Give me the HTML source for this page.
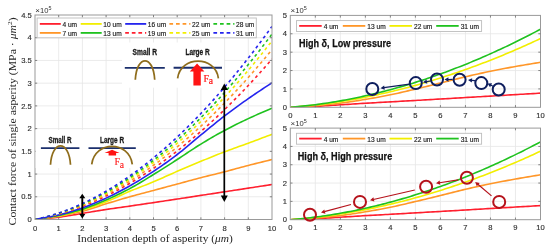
<!DOCTYPE html><html><head><meta charset="utf-8"><style>html,body{margin:0;padding:0;background:#fff;}svg{display:block;will-change:transform;}text{font-family:'Liberation Sans', sans-serif;}</style></head><body>
<svg width="550" height="248" viewBox="0 0 550 248">
<rect width="550" height="248" fill="#fff"/>
<line x1="58.70" y1="15.00" x2="58.70" y2="219.50" stroke="#e6e6e6" stroke-width="0.8"/>
<line x1="82.40" y1="15.00" x2="82.40" y2="219.50" stroke="#e6e6e6" stroke-width="0.8"/>
<line x1="106.10" y1="15.00" x2="106.10" y2="219.50" stroke="#e6e6e6" stroke-width="0.8"/>
<line x1="129.80" y1="15.00" x2="129.80" y2="219.50" stroke="#e6e6e6" stroke-width="0.8"/>
<line x1="153.50" y1="15.00" x2="153.50" y2="219.50" stroke="#e6e6e6" stroke-width="0.8"/>
<line x1="177.20" y1="15.00" x2="177.20" y2="219.50" stroke="#e6e6e6" stroke-width="0.8"/>
<line x1="200.90" y1="15.00" x2="200.90" y2="219.50" stroke="#e6e6e6" stroke-width="0.8"/>
<line x1="224.60" y1="15.00" x2="224.60" y2="219.50" stroke="#e6e6e6" stroke-width="0.8"/>
<line x1="248.30" y1="15.00" x2="248.30" y2="219.50" stroke="#e6e6e6" stroke-width="0.8"/>
<line x1="35.00" y1="196.78" x2="272.00" y2="196.78" stroke="#e6e6e6" stroke-width="0.8"/>
<line x1="35.00" y1="174.06" x2="272.00" y2="174.06" stroke="#e6e6e6" stroke-width="0.8"/>
<line x1="35.00" y1="151.33" x2="272.00" y2="151.33" stroke="#e6e6e6" stroke-width="0.8"/>
<line x1="35.00" y1="128.61" x2="272.00" y2="128.61" stroke="#e6e6e6" stroke-width="0.8"/>
<line x1="35.00" y1="105.89" x2="272.00" y2="105.89" stroke="#e6e6e6" stroke-width="0.8"/>
<line x1="35.00" y1="83.17" x2="272.00" y2="83.17" stroke="#e6e6e6" stroke-width="0.8"/>
<line x1="35.00" y1="60.44" x2="272.00" y2="60.44" stroke="#e6e6e6" stroke-width="0.8"/>
<line x1="35.00" y1="37.72" x2="272.00" y2="37.72" stroke="#e6e6e6" stroke-width="0.8"/>
<clipPath id="cl"><rect x="35.00" y="15.00" width="237.00" height="204.50"/></clipPath>
<g clip-path="url(#cl)">
<polyline points="35.00,219.50 37.37,219.28 39.74,219.06 42.11,218.86 44.48,218.65 46.85,218.44 49.22,218.22 51.59,218.00 53.96,217.76 56.33,217.50 58.70,217.23 61.07,216.92 63.44,216.58 65.81,216.22 68.18,215.83 70.55,215.42 72.92,215.01 75.29,214.59 77.66,214.17 80.03,213.76 82.40,213.37 84.77,212.98 87.14,212.58 89.51,212.19 91.88,211.80 94.25,211.40 96.62,211.01 98.99,210.63 101.36,210.24 103.73,209.87 106.10,209.50 108.47,209.14 110.84,208.79 113.21,208.45 115.58,208.11 117.95,207.78 120.32,207.44 122.69,207.11 125.06,206.77 127.43,206.44 129.80,206.09 132.17,205.75 134.54,205.40 136.91,205.05 139.28,204.70 141.65,204.35 144.02,204.00 146.39,203.65 148.76,203.30 151.13,202.95 153.50,202.59 155.87,202.24 158.24,201.89 160.61,201.54 162.98,201.18 165.35,200.83 167.72,200.48 170.09,200.12 172.46,199.77 174.83,199.41 177.20,199.05 179.57,198.69 181.94,198.33 184.31,197.97 186.68,197.60 189.05,197.24 191.42,196.87 193.79,196.51 196.16,196.14 198.53,195.78 200.90,195.41 203.27,195.05 205.64,194.69 208.01,194.32 210.38,193.96 212.75,193.60 215.12,193.23 217.49,192.87 219.86,192.51 222.23,192.14 224.60,191.78 226.97,191.42 229.34,191.05 231.71,190.69 234.08,190.32 236.45,189.96 238.82,189.60 241.19,189.23 243.56,188.87 245.93,188.51 248.30,188.14 250.67,187.78 253.04,187.42 255.41,187.05 257.78,186.69 260.15,186.33 262.52,185.96 264.89,185.60 267.26,185.23 269.63,184.87 272.00,184.51" fill="none" stroke="#ff1f2e" stroke-width="1.60" stroke-linejoin="round"/>
<polyline points="35.00,219.50 37.37,219.19 39.74,218.89 42.11,218.59 44.48,218.30 46.85,218.00 49.22,217.69 51.59,217.38 53.96,217.05 56.33,216.69 58.70,216.32 61.07,215.92 63.44,215.49 65.81,215.05 68.18,214.58 70.55,214.08 72.92,213.57 75.29,213.04 77.66,212.48 80.03,211.91 82.40,211.32 84.77,210.69 87.14,210.00 89.51,209.28 91.88,208.51 94.25,207.73 96.62,206.93 98.99,206.13 101.36,205.34 103.73,204.57 106.10,203.82 108.47,203.10 110.84,202.37 113.21,201.65 115.58,200.94 117.95,200.23 120.32,199.52 122.69,198.82 125.06,198.13 127.43,197.45 129.80,196.78 132.17,196.12 134.54,195.46 136.91,194.82 139.28,194.19 141.65,193.56 144.02,192.93 146.39,192.30 148.76,191.68 151.13,191.05 153.50,190.42 155.87,189.78 158.24,189.14 160.61,188.51 162.98,187.87 165.35,187.23 167.72,186.60 170.09,185.96 172.46,185.33 174.83,184.69 177.20,184.05 179.57,183.41 181.94,182.77 184.31,182.13 186.68,181.49 189.05,180.84 191.42,180.20 193.79,179.57 196.16,178.93 198.53,178.31 200.90,177.69 203.27,177.08 205.64,176.49 208.01,175.90 210.38,175.32 212.75,174.74 215.12,174.16 217.49,173.57 219.86,172.99 222.23,172.39 224.60,171.78 226.97,171.16 229.34,170.53 231.71,169.89 234.08,169.25 236.45,168.60 238.82,167.95 241.19,167.31 243.56,166.67 245.93,166.04 248.30,165.42 250.67,164.81 253.04,164.21 255.41,163.62 257.78,163.03 260.15,162.44 262.52,161.86 264.89,161.27 267.26,160.69 269.63,160.10 272.00,159.51" fill="none" stroke="#ff9628" stroke-width="1.60" stroke-linejoin="round"/>
<polyline points="35.00,219.50 37.37,219.14 39.74,218.80 42.11,218.46 44.48,218.13 46.85,217.79 49.22,217.44 51.59,217.08 53.96,216.70 56.33,216.30 58.70,215.86 61.07,215.40 63.44,214.89 65.81,214.36 68.18,213.80 70.55,213.21 72.92,212.59 75.29,211.96 77.66,211.31 80.03,210.64 82.40,209.96 84.77,209.25 87.14,208.52 89.51,207.76 91.88,206.97 94.25,206.16 96.62,205.32 98.99,204.46 101.36,203.58 103.73,202.69 106.10,201.78 108.47,200.83 110.84,199.83 113.21,198.80 115.58,197.73 117.95,196.65 120.32,195.56 122.69,194.47 125.06,193.39 127.43,192.34 129.80,191.32 132.17,190.34 134.54,189.37 136.91,188.43 139.28,187.49 141.65,186.55 144.02,185.62 146.39,184.68 148.76,183.73 151.13,182.77 153.50,181.78 155.87,180.77 158.24,179.74 160.61,178.70 162.98,177.65 165.35,176.59 167.72,175.52 170.09,174.46 172.46,173.40 174.83,172.36 177.20,171.33 179.57,170.31 181.94,169.29 184.31,168.28 186.68,167.28 189.05,166.27 191.42,165.28 193.79,164.28 196.16,163.29 198.53,162.31 200.90,161.33 203.27,160.35 205.64,159.38 208.01,158.41 210.38,157.44 212.75,156.47 215.12,155.52 217.49,154.57 219.86,153.63 222.23,152.70 224.60,151.79 226.97,150.89 229.34,150.01 231.71,149.14 234.08,148.28 236.45,147.43 238.82,146.58 241.19,145.73 243.56,144.88 245.93,144.02 248.30,143.15 250.67,142.28 253.04,141.40 255.41,140.51 257.78,139.63 260.15,138.74 262.52,137.85 264.89,136.96 267.26,136.07 269.63,135.18 272.00,134.29" fill="none" stroke="#f2ee00" stroke-width="1.60" stroke-linejoin="round"/>
<polyline points="35.00,219.50 37.37,219.10 39.74,218.71 42.11,218.33 44.48,217.95 46.85,217.56 49.22,217.17 51.59,216.76 53.96,216.34 56.33,215.89 58.70,215.41 61.07,214.90 63.44,214.37 65.81,213.81 68.18,213.22 70.55,212.61 72.92,211.97 75.29,211.31 77.66,210.63 80.03,209.92 82.40,209.18 84.77,208.42 87.14,207.60 89.51,206.74 91.88,205.84 94.25,204.91 96.62,203.96 98.99,202.98 101.36,201.98 103.73,200.98 106.10,199.96 108.47,198.93 110.84,197.88 113.21,196.80 115.58,195.70 117.95,194.58 120.32,193.43 122.69,192.26 125.06,191.06 127.43,189.84 129.80,188.60 132.17,187.32 134.54,185.99 136.91,184.62 139.28,183.22 141.65,181.80 144.02,180.35 146.39,178.90 148.76,177.43 151.13,175.97 153.50,174.51 155.87,173.05 158.24,171.58 160.61,170.09 162.98,168.60 165.35,167.10 167.72,165.59 170.09,164.07 172.46,162.56 174.83,161.04 177.20,159.51 179.57,157.98 181.94,156.42 184.31,154.85 186.68,153.27 189.05,151.70 191.42,150.13 193.79,148.57 196.16,147.04 198.53,145.53 200.90,144.06 203.27,142.62 205.64,141.20 208.01,139.79 210.38,138.39 212.75,137.02 215.12,135.66 217.49,134.32 219.86,133.00 222.23,131.71 224.60,130.43 226.97,129.17 229.34,127.93 231.71,126.71 234.08,125.51 236.45,124.33 238.82,123.15 241.19,122.00 243.56,120.86 245.93,119.73 248.30,118.61 250.67,117.52 253.04,116.44 255.41,115.38 257.78,114.34 260.15,113.31 262.52,112.28 264.89,111.26 267.26,110.23 269.63,109.20 272.00,108.16" fill="none" stroke="#1fc21f" stroke-width="1.60" stroke-linejoin="round"/>
<polyline points="35.00,219.50 37.37,219.05 39.74,218.62 42.11,218.20 44.48,217.78 46.85,217.35 49.22,216.91 51.59,216.46 53.96,215.99 56.33,215.49 58.70,214.96 61.07,214.38 63.44,213.78 65.81,213.14 68.18,212.47 70.55,211.77 72.92,211.04 75.29,210.29 77.66,209.52 80.03,208.72 82.40,207.91 84.77,207.07 87.14,206.20 89.51,205.28 91.88,204.34 94.25,203.36 96.62,202.36 98.99,201.33 101.36,200.29 103.73,199.22 106.10,198.14 108.47,197.04 110.84,195.90 113.21,194.73 115.58,193.53 117.95,192.31 120.32,191.06 122.69,189.79 125.06,188.50 127.43,187.19 129.80,185.87 132.17,184.53 134.54,183.15 136.91,181.76 139.28,180.33 141.65,178.89 144.02,177.42 146.39,175.92 148.76,174.41 151.13,172.88 153.50,171.33 155.87,169.76 158.24,168.16 160.61,166.54 162.98,164.90 165.35,163.23 167.72,161.54 170.09,159.82 172.46,158.08 174.83,156.31 177.20,154.51 179.57,152.68 181.94,150.79 184.31,148.85 186.68,146.89 189.05,144.90 191.42,142.90 193.79,140.89 196.16,138.90 198.53,136.92 200.90,134.97 203.27,133.04 205.64,131.10 208.01,129.15 210.38,127.21 212.75,125.28 215.12,123.36 217.49,121.46 219.86,119.57 222.23,117.72 224.60,115.89 226.97,114.08 229.34,112.30 231.71,110.53 234.08,108.79 236.45,107.06 238.82,105.34 241.19,103.64 243.56,101.95 245.93,100.28 248.30,98.62 250.67,96.97 253.04,95.35 255.41,93.75 257.78,92.16 260.15,90.58 262.52,89.01 264.89,87.44 267.26,85.87 269.63,84.30 272.00,82.71" fill="none" stroke="#2424ee" stroke-width="1.60" stroke-linejoin="round"/>
<polyline points="35.00,219.50 37.37,219.08 39.74,218.64 42.11,218.17 44.48,217.67 46.85,217.15 49.22,216.60 51.59,216.02 53.96,215.42 56.33,214.79 58.70,214.14 61.07,213.46 63.44,212.76 65.81,212.03 68.18,211.28 70.55,210.51 72.92,209.71 75.29,208.88 77.66,208.03 80.03,207.16 82.40,206.26 84.77,205.34 87.14,204.40 89.51,203.43 91.88,202.43 94.25,201.41 96.62,200.37 98.99,199.31 101.36,198.22 103.73,197.11 106.10,195.97 108.47,194.81 110.84,193.62 113.21,192.42 115.58,191.19 117.95,189.93 120.32,188.65 122.69,187.35 125.06,186.03 127.43,184.68 129.80,183.31 132.17,181.91 134.54,180.49 136.91,179.05 139.28,177.59 141.65,176.10 144.02,174.59 146.39,173.05 148.76,171.49 151.13,169.91 153.50,168.31 155.87,166.68 158.24,165.03 160.61,163.36 162.98,161.66 165.35,159.94 167.72,158.20 170.09,156.44 172.46,154.65 174.83,152.84 177.20,151.00 179.57,149.15 181.94,147.27 184.31,145.37 186.68,143.44 189.05,141.49 191.42,139.52 193.79,137.53 196.16,135.51 198.53,133.47 200.90,131.41 203.27,129.33 205.64,127.22 208.01,125.09 210.38,122.94 212.75,120.76 215.12,118.57 217.49,116.35 219.86,114.10 222.23,111.84 224.60,109.55 226.97,107.24 229.34,104.91 231.71,102.55 234.08,100.18 236.45,97.77 238.82,95.35 241.19,92.91 243.56,90.44 245.93,87.95 248.30,85.44 250.67,82.90 253.04,80.34 255.41,77.76 257.78,75.16 260.15,72.54 262.52,69.89 264.89,67.22 267.26,64.53 269.63,61.82 272.00,59.08" fill="none" stroke="#ff1f2e" stroke-width="1.60" stroke-dasharray="3.0,3.2" stroke-linejoin="round"/>
<polyline points="35.00,219.50 37.37,219.06 39.74,218.59 42.11,218.09 44.48,217.56 46.85,217.01 49.22,216.42 51.59,215.81 53.96,215.18 56.33,214.51 58.70,213.82 61.07,213.10 63.44,212.36 65.81,211.59 68.18,210.79 70.55,209.97 72.92,209.13 75.29,208.25 77.66,207.35 80.03,206.43 82.40,205.48 84.77,204.50 87.14,203.50 89.51,202.47 91.88,201.42 94.25,200.34 96.62,199.23 98.99,198.11 101.36,196.95 103.73,195.77 106.10,194.57 108.47,193.34 110.84,192.08 113.21,190.81 115.58,189.50 117.95,188.17 120.32,186.82 122.69,185.44 125.06,184.03 127.43,182.61 129.80,181.15 132.17,179.67 134.54,178.17 136.91,176.64 139.28,175.09 141.65,173.51 144.02,171.91 146.39,170.29 148.76,168.64 151.13,166.96 153.50,165.26 155.87,163.54 158.24,161.79 160.61,160.02 162.98,158.22 165.35,156.40 167.72,154.55 170.09,152.68 172.46,150.79 174.83,148.87 177.20,146.93 179.57,144.96 181.94,142.97 184.31,140.96 186.68,138.92 189.05,136.85 191.42,134.76 193.79,132.65 196.16,130.52 198.53,128.36 200.90,126.17 203.27,123.96 205.64,121.73 208.01,119.47 210.38,117.19 212.75,114.89 215.12,112.56 217.49,110.21 219.86,107.83 222.23,105.43 224.60,103.01 226.97,100.56 229.34,98.09 231.71,95.60 234.08,93.08 236.45,90.53 238.82,87.97 241.19,85.38 243.56,82.76 245.93,80.12 248.30,77.46 250.67,74.78 253.04,72.07 255.41,69.33 257.78,66.58 260.15,63.80 262.52,60.99 264.89,58.16 267.26,55.31 269.63,52.44 272.00,49.54" fill="none" stroke="#ff9628" stroke-width="1.60" stroke-dasharray="3.0,3.2" stroke-linejoin="round"/>
<polyline points="35.00,219.50 37.37,219.04 39.74,218.54 42.11,218.02 44.48,217.46 46.85,216.88 49.22,216.27 51.59,215.62 53.96,214.96 56.33,214.26 58.70,213.53 61.07,212.78 63.44,212.00 65.81,211.19 68.18,210.35 70.55,209.49 72.92,208.60 75.29,207.68 77.66,206.73 80.03,205.76 82.40,204.76 84.77,203.74 87.14,202.68 89.51,201.60 91.88,200.50 94.25,199.37 96.62,198.21 98.99,197.02 101.36,195.81 103.73,194.57 106.10,193.30 108.47,192.01 110.84,190.69 113.21,189.35 115.58,187.98 117.95,186.58 120.32,185.16 122.69,183.71 125.06,182.23 127.43,180.73 129.80,179.20 132.17,177.65 134.54,176.07 136.91,174.47 139.28,172.84 141.65,171.18 144.02,169.50 146.39,167.79 148.76,166.05 151.13,164.29 153.50,162.51 155.87,160.70 158.24,158.86 160.61,157.00 162.98,155.11 165.35,153.19 167.72,151.25 170.09,149.29 172.46,147.30 174.83,145.28 177.20,143.24 179.57,141.17 181.94,139.08 184.31,136.96 186.68,134.82 189.05,132.65 191.42,130.46 193.79,128.24 196.16,126.00 198.53,123.73 200.90,121.43 203.27,119.11 205.64,116.76 208.01,114.39 210.38,112.00 212.75,109.58 215.12,107.13 217.49,104.66 219.86,102.16 222.23,99.64 224.60,97.09 226.97,94.52 229.34,91.92 231.71,89.30 234.08,86.65 236.45,83.98 238.82,81.28 241.19,78.56 243.56,75.81 245.93,73.04 248.30,70.25 250.67,67.42 253.04,64.58 255.41,61.70 257.78,58.81 260.15,55.89 262.52,52.94 264.89,49.97 267.26,46.97 269.63,43.95 272.00,40.90" fill="none" stroke="#f2ee00" stroke-width="1.60" stroke-dasharray="3.0,3.2" stroke-linejoin="round"/>
<polyline points="35.00,219.50 37.37,219.02 39.74,218.51 42.11,217.96 44.48,217.38 46.85,216.78 49.22,216.14 51.59,215.48 53.96,214.78 56.33,214.06 58.70,213.30 61.07,212.52 63.44,211.71 65.81,210.87 68.18,210.00 70.55,209.11 72.92,208.18 75.29,207.23 77.66,206.25 80.03,205.24 82.40,204.20 84.77,203.14 87.14,202.04 89.51,200.92 91.88,199.77 94.25,198.60 96.62,197.39 98.99,196.16 101.36,194.90 103.73,193.62 106.10,192.30 108.47,190.96 110.84,189.59 113.21,188.20 115.58,186.77 117.95,185.32 120.32,183.85 122.69,182.34 125.06,180.81 127.43,179.25 129.80,177.67 132.17,176.05 134.54,174.41 136.91,172.75 139.28,171.05 141.65,169.33 144.02,167.59 146.39,165.81 148.76,164.01 151.13,162.19 153.50,160.33 155.87,158.45 158.24,156.54 160.61,154.61 162.98,152.65 165.35,150.66 167.72,148.65 170.09,146.61 172.46,144.54 174.83,142.45 177.20,140.33 179.57,138.19 181.94,136.01 184.31,133.81 186.68,131.59 189.05,129.34 191.42,127.06 193.79,124.76 196.16,122.43 198.53,120.07 200.90,117.69 203.27,115.28 205.64,112.84 208.01,110.38 210.38,107.89 212.75,105.38 215.12,102.84 217.49,100.27 219.86,97.68 222.23,95.06 224.60,92.42 226.97,89.75 229.34,87.05 231.71,84.33 234.08,81.58 236.45,78.81 238.82,76.01 241.19,73.18 243.56,70.33 245.93,67.45 248.30,64.55 250.67,61.62 253.04,58.66 255.41,55.68 257.78,52.67 260.15,49.64 262.52,46.58 264.89,43.50 267.26,40.39 269.63,37.25 272.00,34.09" fill="none" stroke="#1fc21f" stroke-width="1.60" stroke-dasharray="3.0,3.2" stroke-linejoin="round"/>
<polyline points="35.00,219.50 37.37,219.00 39.74,218.46 42.11,217.90 44.48,217.30 46.85,216.67 49.22,216.00 51.59,215.31 53.96,214.59 56.33,213.83 58.70,213.05 61.07,212.23 63.44,211.39 65.81,210.51 68.18,209.61 70.55,208.67 72.92,207.71 75.29,206.72 77.66,205.70 80.03,204.64 82.40,203.56 84.77,202.45 87.14,201.32 89.51,200.15 91.88,198.95 94.25,197.73 96.62,196.47 98.99,195.19 101.36,193.88 103.73,192.54 106.10,191.17 108.47,189.77 110.84,188.35 113.21,186.89 115.58,185.41 117.95,183.90 120.32,182.36 122.69,180.79 125.06,179.20 127.43,177.57 129.80,175.92 132.17,174.24 134.54,172.54 136.91,170.80 139.28,169.04 141.65,167.24 144.02,165.42 146.39,163.58 148.76,161.70 151.13,159.80 153.50,157.87 155.87,155.91 158.24,153.92 160.61,151.91 162.98,149.87 165.35,147.80 167.72,145.70 170.09,143.57 172.46,141.42 174.83,139.24 177.20,137.03 179.57,134.80 181.94,132.53 184.31,130.24 186.68,127.93 189.05,125.58 191.42,123.21 193.79,120.81 196.16,118.38 198.53,115.93 200.90,113.44 203.27,110.94 205.64,108.40 208.01,105.84 210.38,103.24 212.75,100.63 215.12,97.98 217.49,95.31 219.86,92.61 222.23,89.88 224.60,87.13 226.97,84.34 229.34,81.54 231.71,78.70 234.08,75.84 236.45,72.95 238.82,70.03 241.19,67.09 243.56,64.12 245.93,61.12 248.30,58.09 250.67,55.04 253.04,51.96 255.41,48.86 257.78,45.72 260.15,42.56 262.52,39.38 264.89,36.16 267.26,32.92 269.63,29.66 272.00,26.36" fill="none" stroke="#2424ee" stroke-width="1.60" stroke-dasharray="3.0,3.2" stroke-linejoin="round"/>
</g>
<rect x="35.00" y="15.00" width="237.00" height="204.50" fill="none" stroke="#999999" stroke-width="1.0"/>
<line x1="58.70" y1="219.50" x2="58.70" y2="217.30" stroke="#777" stroke-width="0.9"/>
<line x1="58.70" y1="15.00" x2="58.70" y2="17.20" stroke="#777" stroke-width="0.9"/>
<line x1="82.40" y1="219.50" x2="82.40" y2="217.30" stroke="#777" stroke-width="0.9"/>
<line x1="82.40" y1="15.00" x2="82.40" y2="17.20" stroke="#777" stroke-width="0.9"/>
<line x1="106.10" y1="219.50" x2="106.10" y2="217.30" stroke="#777" stroke-width="0.9"/>
<line x1="106.10" y1="15.00" x2="106.10" y2="17.20" stroke="#777" stroke-width="0.9"/>
<line x1="129.80" y1="219.50" x2="129.80" y2="217.30" stroke="#777" stroke-width="0.9"/>
<line x1="129.80" y1="15.00" x2="129.80" y2="17.20" stroke="#777" stroke-width="0.9"/>
<line x1="153.50" y1="219.50" x2="153.50" y2="217.30" stroke="#777" stroke-width="0.9"/>
<line x1="153.50" y1="15.00" x2="153.50" y2="17.20" stroke="#777" stroke-width="0.9"/>
<line x1="177.20" y1="219.50" x2="177.20" y2="217.30" stroke="#777" stroke-width="0.9"/>
<line x1="177.20" y1="15.00" x2="177.20" y2="17.20" stroke="#777" stroke-width="0.9"/>
<line x1="200.90" y1="219.50" x2="200.90" y2="217.30" stroke="#777" stroke-width="0.9"/>
<line x1="200.90" y1="15.00" x2="200.90" y2="17.20" stroke="#777" stroke-width="0.9"/>
<line x1="224.60" y1="219.50" x2="224.60" y2="217.30" stroke="#777" stroke-width="0.9"/>
<line x1="224.60" y1="15.00" x2="224.60" y2="17.20" stroke="#777" stroke-width="0.9"/>
<line x1="248.30" y1="219.50" x2="248.30" y2="217.30" stroke="#777" stroke-width="0.9"/>
<line x1="248.30" y1="15.00" x2="248.30" y2="17.20" stroke="#777" stroke-width="0.9"/>
<line x1="35.00" y1="196.78" x2="37.20" y2="196.78" stroke="#777" stroke-width="0.9"/>
<line x1="272.00" y1="196.78" x2="269.80" y2="196.78" stroke="#777" stroke-width="0.9"/>
<line x1="35.00" y1="174.06" x2="37.20" y2="174.06" stroke="#777" stroke-width="0.9"/>
<line x1="272.00" y1="174.06" x2="269.80" y2="174.06" stroke="#777" stroke-width="0.9"/>
<line x1="35.00" y1="151.33" x2="37.20" y2="151.33" stroke="#777" stroke-width="0.9"/>
<line x1="272.00" y1="151.33" x2="269.80" y2="151.33" stroke="#777" stroke-width="0.9"/>
<line x1="35.00" y1="128.61" x2="37.20" y2="128.61" stroke="#777" stroke-width="0.9"/>
<line x1="272.00" y1="128.61" x2="269.80" y2="128.61" stroke="#777" stroke-width="0.9"/>
<line x1="35.00" y1="105.89" x2="37.20" y2="105.89" stroke="#777" stroke-width="0.9"/>
<line x1="272.00" y1="105.89" x2="269.80" y2="105.89" stroke="#777" stroke-width="0.9"/>
<line x1="35.00" y1="83.17" x2="37.20" y2="83.17" stroke="#777" stroke-width="0.9"/>
<line x1="272.00" y1="83.17" x2="269.80" y2="83.17" stroke="#777" stroke-width="0.9"/>
<line x1="35.00" y1="60.44" x2="37.20" y2="60.44" stroke="#777" stroke-width="0.9"/>
<line x1="272.00" y1="60.44" x2="269.80" y2="60.44" stroke="#777" stroke-width="0.9"/>
<line x1="35.00" y1="37.72" x2="37.20" y2="37.72" stroke="#777" stroke-width="0.9"/>
<line x1="272.00" y1="37.72" x2="269.80" y2="37.72" stroke="#777" stroke-width="0.9"/>
<text x="35.00" y="230.60" font-size="7.6" text-anchor="middle" fill="#303030" stroke="#303030" stroke-width="0.15">0</text>
<text x="58.70" y="230.60" font-size="7.6" text-anchor="middle" fill="#303030" stroke="#303030" stroke-width="0.15">1</text>
<text x="82.40" y="230.60" font-size="7.6" text-anchor="middle" fill="#303030" stroke="#303030" stroke-width="0.15">2</text>
<text x="106.10" y="230.60" font-size="7.6" text-anchor="middle" fill="#303030" stroke="#303030" stroke-width="0.15">3</text>
<text x="129.80" y="230.60" font-size="7.6" text-anchor="middle" fill="#303030" stroke="#303030" stroke-width="0.15">4</text>
<text x="153.50" y="230.60" font-size="7.6" text-anchor="middle" fill="#303030" stroke="#303030" stroke-width="0.15">5</text>
<text x="177.20" y="230.60" font-size="7.6" text-anchor="middle" fill="#303030" stroke="#303030" stroke-width="0.15">6</text>
<text x="200.90" y="230.60" font-size="7.6" text-anchor="middle" fill="#303030" stroke="#303030" stroke-width="0.15">7</text>
<text x="224.60" y="230.60" font-size="7.6" text-anchor="middle" fill="#303030" stroke="#303030" stroke-width="0.15">8</text>
<text x="248.30" y="230.60" font-size="7.6" text-anchor="middle" fill="#303030" stroke="#303030" stroke-width="0.15">9</text>
<text x="272.00" y="230.60" font-size="7.6" text-anchor="middle" fill="#303030" stroke="#303030" stroke-width="0.15">10</text>
<text x="31.70" y="222.20" font-size="7.6" text-anchor="end" fill="#303030" stroke="#303030" stroke-width="0.15">0</text>
<text x="31.70" y="199.48" font-size="7.6" text-anchor="end" fill="#303030" stroke="#303030" stroke-width="0.15">0.5</text>
<text x="31.70" y="176.76" font-size="7.6" text-anchor="end" fill="#303030" stroke="#303030" stroke-width="0.15">1</text>
<text x="31.70" y="154.03" font-size="7.6" text-anchor="end" fill="#303030" stroke="#303030" stroke-width="0.15">1.5</text>
<text x="31.70" y="131.31" font-size="7.6" text-anchor="end" fill="#303030" stroke="#303030" stroke-width="0.15">2</text>
<text x="31.70" y="108.59" font-size="7.6" text-anchor="end" fill="#303030" stroke="#303030" stroke-width="0.15">2.5</text>
<text x="31.70" y="85.87" font-size="7.6" text-anchor="end" fill="#303030" stroke="#303030" stroke-width="0.15">3</text>
<text x="31.70" y="63.14" font-size="7.6" text-anchor="end" fill="#303030" stroke="#303030" stroke-width="0.15">3.5</text>
<text x="31.70" y="40.42" font-size="7.6" text-anchor="end" fill="#303030" stroke="#303030" stroke-width="0.15">4</text>
<text x="31.70" y="17.70" font-size="7.6" text-anchor="end" fill="#303030" stroke="#303030" stroke-width="0.15">4.5</text>
<text x="35.30" y="12.70" font-size="7.6" fill="#303030"><tspan font-size="8">&#215;</tspan>10<tspan font-size="5.4" dy="-3.2">5</tspan></text>
<rect x="37.1" y="18" width="219.2" height="19.8" fill="#fff" stroke="#bdbdbd" stroke-width="0.9"/>
<line x1="39.80" y1="23.90" x2="60.80" y2="23.90" stroke="#ff1f2e" stroke-width="1.8"/>
<text x="62.40" y="27.10" font-size="6.6" fill="#1a1a1a" stroke="#1a1a1a" stroke-width="0.15">4 um</text>
<line x1="80.70" y1="23.90" x2="101.70" y2="23.90" stroke="#f2ee00" stroke-width="1.8"/>
<text x="103.30" y="27.10" font-size="6.6" fill="#1a1a1a" stroke="#1a1a1a" stroke-width="0.15">10 um</text>
<line x1="125.20" y1="23.90" x2="146.20" y2="23.90" stroke="#2424ee" stroke-width="1.8"/>
<text x="147.80" y="27.10" font-size="6.6" fill="#1a1a1a" stroke="#1a1a1a" stroke-width="0.15">16 um</text>
<line x1="169.40" y1="23.90" x2="190.40" y2="23.90" stroke="#ff9628" stroke-width="1.8" stroke-dasharray="3.7,2.9"/>
<text x="192.00" y="27.10" font-size="6.6" fill="#1a1a1a" stroke="#1a1a1a" stroke-width="0.15">22 um</text>
<line x1="213.40" y1="23.90" x2="234.40" y2="23.90" stroke="#1fc21f" stroke-width="1.8" stroke-dasharray="3.7,2.9"/>
<text x="236.00" y="27.10" font-size="6.6" fill="#1a1a1a" stroke="#1a1a1a" stroke-width="0.15">28 um</text>
<line x1="39.80" y1="32.90" x2="60.80" y2="32.90" stroke="#ff9628" stroke-width="1.8"/>
<text x="62.40" y="36.10" font-size="6.6" fill="#1a1a1a" stroke="#1a1a1a" stroke-width="0.15">7 um</text>
<line x1="80.70" y1="32.90" x2="101.70" y2="32.90" stroke="#1fc21f" stroke-width="1.8"/>
<text x="103.30" y="36.10" font-size="6.6" fill="#1a1a1a" stroke="#1a1a1a" stroke-width="0.15">13 um</text>
<line x1="125.20" y1="32.90" x2="146.20" y2="32.90" stroke="#ff1f2e" stroke-width="1.8" stroke-dasharray="3.7,2.9"/>
<text x="147.80" y="36.10" font-size="6.6" fill="#1a1a1a" stroke="#1a1a1a" stroke-width="0.15">19 um</text>
<line x1="169.40" y1="32.90" x2="190.40" y2="32.90" stroke="#f2ee00" stroke-width="1.8" stroke-dasharray="3.7,2.9"/>
<text x="192.00" y="36.10" font-size="6.6" fill="#1a1a1a" stroke="#1a1a1a" stroke-width="0.15">25 um</text>
<line x1="213.40" y1="32.90" x2="234.40" y2="32.90" stroke="#2424ee" stroke-width="1.8" stroke-dasharray="3.7,2.9"/>
<text x="236.00" y="36.10" font-size="6.6" fill="#1a1a1a" stroke="#1a1a1a" stroke-width="0.15">31 um</text>
<text x="77.3" y="242.3" font-size="11" textLength="155.4" lengthAdjust="spacingAndGlyphs" fill="#262626" style="font-family:'Liberation Serif', serif">Indentation depth of asperity (<tspan font-style="italic">&#956;m</tspan>)</text>
<text transform="translate(16.1,121.45) rotate(-90)" font-size="11" text-anchor="middle" textLength="208" lengthAdjust="spacingAndGlyphs" fill="#262626" style="font-family:'Liberation Serif', serif">Contact force of single asperity (MPa &#183; <tspan font-style="italic">&#956;m</tspan><tspan font-size="6.8" dy="-4">2</tspan><tspan dy="4">)</tspan></text>
<rect x="122" y="42.5" width="102" height="45.2" fill="#fff"/>
<rect x="35.6" y="130" width="103.4" height="38" fill="#fff"/>
<text x="132.6" y="54.9" font-size="8.4" font-weight="bold" textLength="24.4" lengthAdjust="spacingAndGlyphs" fill="#1a1a1a" stroke="#1a1a1a" stroke-width="0.3">Small R</text>
<line x1="124.8" y1="67.9" x2="164.8" y2="67.9" stroke="#1b2f6c" stroke-width="1.9"/>
<path d="M135.30,79.70 C136.75,54.48 153.25,54.48 154.70,79.70" fill="none" stroke="#8f6d1c" stroke-width="1.75"/>
<text x="185.5" y="54.9" font-size="8.4" font-weight="bold" textLength="24.2" lengthAdjust="spacingAndGlyphs" fill="#1a1a1a" stroke="#1a1a1a" stroke-width="0.3">Large R</text>
<line x1="173.6" y1="67.8" x2="222" y2="67.8" stroke="#1b2f6c" stroke-width="1.9"/>
<path d="M177.60,78.30 C180.66,55.42 215.34,55.42 218.40,78.30" fill="none" stroke="#8f6d1c" stroke-width="1.75"/>
<polygon points="189.8,71.5 197.1,63.6 204.4,71.5 200.8,71.5 200.8,85.4 193.4,85.4 193.4,71.5" fill="#ff1414"/>
<text x="203.4" y="81.8" font-size="10" fill="#ff1414" stroke="#ff1414" stroke-width="0.2" style="font-family:'Liberation Serif', serif">F<tspan font-size="9.6" dx="-0.3" dy="1.8">a</tspan></text>
<text x="48.5" y="142.6" font-size="8.4" font-weight="bold" textLength="23.1" lengthAdjust="spacingAndGlyphs" fill="#1a1a1a" stroke="#1a1a1a" stroke-width="0.3">Small R</text>
<line x1="40.9" y1="148.1" x2="79.4" y2="148.1" stroke="#1b2f6c" stroke-width="1.9"/>
<path d="M50.50,164.80 C52.00,139.58 69.00,139.58 70.50,164.80" fill="none" stroke="#8f6d1c" stroke-width="1.75"/>
<text x="100" y="142.7" font-size="8.4" font-weight="bold" textLength="24.1" lengthAdjust="spacingAndGlyphs" fill="#1a1a1a" stroke="#1a1a1a" stroke-width="0.3">Large R</text>
<line x1="88.5" y1="148.1" x2="135.8" y2="148.1" stroke="#1b2f6c" stroke-width="1.9"/>
<path d="M91.70,164.30 C94.75,140.51 129.25,140.51 132.30,164.30" fill="none" stroke="#8f6d1c" stroke-width="1.75"/>
<polygon points="104.5,153.0 112.05,149.8 119.6,153.0 116.1,153.0 116.1,155.6 108.6,155.6 108.6,153.0" fill="#ff1414"/>
<text x="114.4" y="164.6" font-size="10" fill="#ff1414" stroke="#ff1414" stroke-width="0.1" style="font-family:'Liberation Serif', serif">F<tspan font-size="9.6" dx="-0.3" dy="3.0">a</tspan></text>
<line x1="224.30" y1="89.40" x2="224.30" y2="196.00" stroke="#000" stroke-width="1.70"/>
<polygon points="224.30,83.40 220.80,89.90 227.80,89.90" fill="#000"/>
<polygon points="224.30,202.00 220.80,195.50 227.80,195.50" fill="#000"/>
<line x1="82.30" y1="197.80" x2="82.30" y2="214.50" stroke="#000" stroke-width="1.90"/>
<polygon points="82.30,193.70 79.30,198.30 85.30,198.30" fill="#000"/>
<polygon points="82.30,218.60 79.30,214.00 85.30,214.00" fill="#000"/>
<line x1="315.32" y1="15.40" x2="315.32" y2="107.30" stroke="#e6e6e6" stroke-width="0.8"/>
<line x1="340.34" y1="15.40" x2="340.34" y2="107.30" stroke="#e6e6e6" stroke-width="0.8"/>
<line x1="365.36" y1="15.40" x2="365.36" y2="107.30" stroke="#e6e6e6" stroke-width="0.8"/>
<line x1="390.38" y1="15.40" x2="390.38" y2="107.30" stroke="#e6e6e6" stroke-width="0.8"/>
<line x1="415.40" y1="15.40" x2="415.40" y2="107.30" stroke="#e6e6e6" stroke-width="0.8"/>
<line x1="440.42" y1="15.40" x2="440.42" y2="107.30" stroke="#e6e6e6" stroke-width="0.8"/>
<line x1="465.44" y1="15.40" x2="465.44" y2="107.30" stroke="#e6e6e6" stroke-width="0.8"/>
<line x1="490.46" y1="15.40" x2="490.46" y2="107.30" stroke="#e6e6e6" stroke-width="0.8"/>
<line x1="515.48" y1="15.40" x2="515.48" y2="107.30" stroke="#e6e6e6" stroke-width="0.8"/>
<line x1="290.30" y1="88.92" x2="540.50" y2="88.92" stroke="#e6e6e6" stroke-width="0.8"/>
<line x1="290.30" y1="70.54" x2="540.50" y2="70.54" stroke="#e6e6e6" stroke-width="0.8"/>
<line x1="290.30" y1="52.16" x2="540.50" y2="52.16" stroke="#e6e6e6" stroke-width="0.8"/>
<line x1="290.30" y1="33.78" x2="540.50" y2="33.78" stroke="#e6e6e6" stroke-width="0.8"/>
<clipPath id="ct"><rect x="290.30" y="15.40" width="250.20" height="91.90"/></clipPath>
<g clip-path="url(#ct)">
<polyline points="290.30,107.30 292.80,107.21 295.30,107.12 297.81,107.04 300.31,106.96 302.81,106.87 305.31,106.78 307.81,106.69 310.32,106.60 312.82,106.49 315.32,106.38 317.82,106.26 320.32,106.12 322.83,105.97 325.33,105.81 327.83,105.65 330.33,105.48 332.83,105.31 335.34,105.14 337.84,104.98 340.34,104.82 342.84,104.66 345.34,104.50 347.85,104.34 350.35,104.18 352.85,104.03 355.35,103.87 357.85,103.71 360.36,103.56 362.86,103.40 365.36,103.26 367.86,103.11 370.36,102.97 372.87,102.83 375.37,102.69 377.87,102.56 380.37,102.42 382.87,102.29 385.38,102.15 387.88,102.02 390.38,101.88 392.88,101.74 395.38,101.60 397.89,101.46 400.39,101.32 402.89,101.17 405.39,101.03 407.89,100.89 410.40,100.75 412.90,100.61 415.40,100.46 417.90,100.32 420.40,100.18 422.91,100.04 425.41,99.89 427.91,99.75 430.41,99.61 432.91,99.46 435.42,99.32 437.92,99.17 440.42,99.03 442.92,98.88 445.42,98.74 447.93,98.59 450.43,98.44 452.93,98.30 455.43,98.15 457.93,98.00 460.44,97.85 462.94,97.71 465.44,97.56 467.94,97.41 470.44,97.26 472.95,97.12 475.45,96.97 477.95,96.82 480.45,96.68 482.95,96.53 485.46,96.38 487.96,96.24 490.46,96.09 492.96,95.94 495.46,95.79 497.97,95.65 500.47,95.50 502.97,95.35 505.47,95.21 507.97,95.06 510.48,94.91 512.98,94.76 515.48,94.62 517.98,94.47 520.48,94.32 522.99,94.18 525.49,94.03 527.99,93.88 530.49,93.74 532.99,93.59 535.50,93.44 538.00,93.29 540.50,93.15" fill="none" stroke="#ff1f2e" stroke-width="1.60" stroke-linejoin="round"/>
<polyline points="290.30,107.30 292.80,107.14 295.30,106.98 297.81,106.83 300.31,106.67 302.81,106.52 305.31,106.36 307.81,106.19 310.32,106.02 312.82,105.84 315.32,105.65 317.82,105.44 320.32,105.22 322.83,105.00 325.33,104.76 327.83,104.51 330.33,104.26 332.83,103.99 335.34,103.71 337.84,103.42 340.34,103.13 342.84,102.82 345.34,102.49 347.85,102.14 350.35,101.78 352.85,101.40 355.35,101.01 357.85,100.62 360.36,100.22 362.86,99.81 365.36,99.40 367.86,98.98 370.36,98.55 372.87,98.12 375.37,97.67 377.87,97.22 380.37,96.76 382.87,96.28 385.38,95.80 387.88,95.31 390.38,94.80 392.88,94.28 395.38,93.75 397.89,93.19 400.39,92.63 402.89,92.05 405.39,91.47 407.89,90.88 410.40,90.29 412.90,89.69 415.40,89.10 417.90,88.51 420.40,87.92 422.91,87.32 425.41,86.71 427.91,86.11 430.41,85.50 432.91,84.88 435.42,84.27 437.92,83.65 440.42,83.04 442.92,82.42 445.42,81.79 447.93,81.15 450.43,80.51 452.93,79.88 455.43,79.24 457.93,78.61 460.44,77.99 462.94,77.38 465.44,76.79 467.94,76.21 470.44,75.63 472.95,75.06 475.45,74.50 477.95,73.94 480.45,73.39 482.95,72.85 485.46,72.32 487.96,71.79 490.46,71.28 492.96,70.77 495.46,70.27 497.97,69.77 500.47,69.29 502.97,68.81 505.47,68.33 507.97,67.87 510.48,67.40 512.98,66.95 515.48,66.50 517.98,66.05 520.48,65.62 522.99,65.19 525.49,64.77 527.99,64.35 530.49,63.94 532.99,63.52 535.50,63.11 538.00,62.69 540.50,62.27" fill="none" stroke="#ff9628" stroke-width="1.60" stroke-linejoin="round"/>
<polyline points="290.30,107.30 292.80,107.12 295.30,106.93 297.81,106.73 300.31,106.52 302.81,106.29 305.31,106.06 307.81,105.81 310.32,105.55 312.82,105.28 315.32,105.00 317.82,104.71 320.32,104.41 322.83,104.10 325.33,103.78 327.83,103.45 330.33,103.10 332.83,102.75 335.34,102.39 337.84,102.01 340.34,101.63 342.84,101.23 345.34,100.83 347.85,100.41 350.35,99.99 352.85,99.55 355.35,99.10 357.85,98.65 360.36,98.18 362.86,97.70 365.36,97.22 367.86,96.72 370.36,96.21 372.87,95.69 375.37,95.17 377.87,94.63 380.37,94.08 382.87,93.52 385.38,92.96 387.88,92.38 390.38,91.79 392.88,91.19 395.38,90.58 397.89,89.97 400.39,89.34 402.89,88.70 405.39,88.05 407.89,87.40 410.40,86.73 412.90,86.05 415.40,85.36 417.90,84.67 420.40,83.96 422.91,83.24 425.41,82.52 427.91,81.78 430.41,81.03 432.91,80.28 435.42,79.51 437.92,78.73 440.42,77.95 442.92,77.15 445.42,76.35 447.93,75.53 450.43,74.71 452.93,73.87 455.43,73.03 457.93,72.17 460.44,71.31 462.94,70.44 465.44,69.55 467.94,68.66 470.44,67.76 472.95,66.84 475.45,65.92 477.95,64.99 480.45,64.05 482.95,63.10 485.46,62.14 487.96,61.17 490.46,60.19 492.96,59.20 495.46,58.20 497.97,57.19 500.47,56.17 502.97,55.14 505.47,54.10 507.97,53.05 510.48,52.00 512.98,50.93 515.48,49.85 517.98,48.77 520.48,47.67 522.99,46.56 525.49,45.45 527.99,44.33 530.49,43.19 532.99,42.05 535.50,40.89 538.00,39.73 540.50,38.56" fill="none" stroke="#f2ee00" stroke-width="1.60" stroke-linejoin="round"/>
<polyline points="290.30,107.30 292.80,107.10 295.30,106.88 297.81,106.65 300.31,106.41 302.81,106.15 305.31,105.89 307.81,105.61 310.32,105.31 312.82,105.01 315.32,104.69 317.82,104.36 320.32,104.02 322.83,103.66 325.33,103.30 327.83,102.92 330.33,102.53 332.83,102.13 335.34,101.72 337.84,101.29 340.34,100.85 342.84,100.41 345.34,99.95 347.85,99.47 350.35,98.99 352.85,98.49 355.35,97.99 357.85,97.47 360.36,96.94 362.86,96.39 365.36,95.84 367.86,95.28 370.36,94.70 372.87,94.11 375.37,93.51 377.87,92.90 380.37,92.28 382.87,91.65 385.38,91.00 387.88,90.34 390.38,89.68 392.88,89.00 395.38,88.31 397.89,87.60 400.39,86.89 402.89,86.17 405.39,85.43 407.89,84.68 410.40,83.92 412.90,83.15 415.40,82.37 417.90,81.58 420.40,80.78 422.91,79.96 425.41,79.14 427.91,78.30 430.41,77.45 432.91,76.59 435.42,75.72 437.92,74.84 440.42,73.95 442.92,73.04 445.42,72.13 447.93,71.20 450.43,70.26 452.93,69.31 455.43,68.36 457.93,67.38 460.44,66.40 462.94,65.41 465.44,64.41 467.94,63.39 470.44,62.37 472.95,61.33 475.45,60.28 477.95,59.22 480.45,58.15 482.95,57.07 485.46,55.98 487.96,54.88 490.46,53.76 492.96,52.64 495.46,51.50 497.97,50.35 500.47,49.20 502.97,48.03 505.47,46.85 507.97,45.66 510.48,44.45 512.98,43.24 515.48,42.02 517.98,40.78 520.48,39.54 522.99,38.28 525.49,37.02 527.99,35.74 530.49,34.45 532.99,33.15 535.50,31.84 538.00,30.52 540.50,29.19" fill="none" stroke="#1fc21f" stroke-width="1.60" stroke-linejoin="round"/>
</g>
<rect x="290.30" y="15.40" width="250.20" height="91.90" fill="none" stroke="#999999" stroke-width="1.0"/>
<line x1="315.32" y1="107.30" x2="315.32" y2="105.10" stroke="#777" stroke-width="0.9"/>
<line x1="315.32" y1="15.40" x2="315.32" y2="17.60" stroke="#777" stroke-width="0.9"/>
<line x1="340.34" y1="107.30" x2="340.34" y2="105.10" stroke="#777" stroke-width="0.9"/>
<line x1="340.34" y1="15.40" x2="340.34" y2="17.60" stroke="#777" stroke-width="0.9"/>
<line x1="365.36" y1="107.30" x2="365.36" y2="105.10" stroke="#777" stroke-width="0.9"/>
<line x1="365.36" y1="15.40" x2="365.36" y2="17.60" stroke="#777" stroke-width="0.9"/>
<line x1="390.38" y1="107.30" x2="390.38" y2="105.10" stroke="#777" stroke-width="0.9"/>
<line x1="390.38" y1="15.40" x2="390.38" y2="17.60" stroke="#777" stroke-width="0.9"/>
<line x1="415.40" y1="107.30" x2="415.40" y2="105.10" stroke="#777" stroke-width="0.9"/>
<line x1="415.40" y1="15.40" x2="415.40" y2="17.60" stroke="#777" stroke-width="0.9"/>
<line x1="440.42" y1="107.30" x2="440.42" y2="105.10" stroke="#777" stroke-width="0.9"/>
<line x1="440.42" y1="15.40" x2="440.42" y2="17.60" stroke="#777" stroke-width="0.9"/>
<line x1="465.44" y1="107.30" x2="465.44" y2="105.10" stroke="#777" stroke-width="0.9"/>
<line x1="465.44" y1="15.40" x2="465.44" y2="17.60" stroke="#777" stroke-width="0.9"/>
<line x1="490.46" y1="107.30" x2="490.46" y2="105.10" stroke="#777" stroke-width="0.9"/>
<line x1="490.46" y1="15.40" x2="490.46" y2="17.60" stroke="#777" stroke-width="0.9"/>
<line x1="515.48" y1="107.30" x2="515.48" y2="105.10" stroke="#777" stroke-width="0.9"/>
<line x1="515.48" y1="15.40" x2="515.48" y2="17.60" stroke="#777" stroke-width="0.9"/>
<line x1="290.30" y1="88.92" x2="292.50" y2="88.92" stroke="#777" stroke-width="0.9"/>
<line x1="540.50" y1="88.92" x2="538.30" y2="88.92" stroke="#777" stroke-width="0.9"/>
<line x1="290.30" y1="70.54" x2="292.50" y2="70.54" stroke="#777" stroke-width="0.9"/>
<line x1="540.50" y1="70.54" x2="538.30" y2="70.54" stroke="#777" stroke-width="0.9"/>
<line x1="290.30" y1="52.16" x2="292.50" y2="52.16" stroke="#777" stroke-width="0.9"/>
<line x1="540.50" y1="52.16" x2="538.30" y2="52.16" stroke="#777" stroke-width="0.9"/>
<line x1="290.30" y1="33.78" x2="292.50" y2="33.78" stroke="#777" stroke-width="0.9"/>
<line x1="540.50" y1="33.78" x2="538.30" y2="33.78" stroke="#777" stroke-width="0.9"/>
<text x="290.30" y="117.80" font-size="7.6" text-anchor="middle" fill="#303030" stroke="#303030" stroke-width="0.15">0</text>
<text x="315.32" y="117.80" font-size="7.6" text-anchor="middle" fill="#303030" stroke="#303030" stroke-width="0.15">1</text>
<text x="340.34" y="117.80" font-size="7.6" text-anchor="middle" fill="#303030" stroke="#303030" stroke-width="0.15">2</text>
<text x="365.36" y="117.80" font-size="7.6" text-anchor="middle" fill="#303030" stroke="#303030" stroke-width="0.15">3</text>
<text x="390.38" y="117.80" font-size="7.6" text-anchor="middle" fill="#303030" stroke="#303030" stroke-width="0.15">4</text>
<text x="415.40" y="117.80" font-size="7.6" text-anchor="middle" fill="#303030" stroke="#303030" stroke-width="0.15">5</text>
<text x="440.42" y="117.80" font-size="7.6" text-anchor="middle" fill="#303030" stroke="#303030" stroke-width="0.15">6</text>
<text x="465.44" y="117.80" font-size="7.6" text-anchor="middle" fill="#303030" stroke="#303030" stroke-width="0.15">7</text>
<text x="490.46" y="117.80" font-size="7.6" text-anchor="middle" fill="#303030" stroke="#303030" stroke-width="0.15">8</text>
<text x="515.48" y="117.80" font-size="7.6" text-anchor="middle" fill="#303030" stroke="#303030" stroke-width="0.15">9</text>
<text x="540.50" y="117.80" font-size="7.6" text-anchor="middle" fill="#303030" stroke="#303030" stroke-width="0.15">10</text>
<text x="287.00" y="110.00" font-size="7.6" text-anchor="end" fill="#303030" stroke="#303030" stroke-width="0.15">0</text>
<text x="287.00" y="91.62" font-size="7.6" text-anchor="end" fill="#303030" stroke="#303030" stroke-width="0.15">1</text>
<text x="287.00" y="73.24" font-size="7.6" text-anchor="end" fill="#303030" stroke="#303030" stroke-width="0.15">2</text>
<text x="287.00" y="54.86" font-size="7.6" text-anchor="end" fill="#303030" stroke="#303030" stroke-width="0.15">3</text>
<text x="287.00" y="36.48" font-size="7.6" text-anchor="end" fill="#303030" stroke="#303030" stroke-width="0.15">4</text>
<text x="287.00" y="18.10" font-size="7.6" text-anchor="end" fill="#303030" stroke="#303030" stroke-width="0.15">5</text>
<text x="290.60" y="13.10" font-size="7.6" fill="#303030"><tspan font-size="8">&#215;</tspan>10<tspan font-size="5.4" dy="-3.2">5</tspan></text>
<rect x="296.5" y="20.60" width="185.1" height="10.9" fill="#fff" stroke="#bdbdbd" stroke-width="0.9"/>
<line x1="299.20" y1="25.90" x2="321.70" y2="25.90" stroke="#ff1f2e" stroke-width="1.8"/>
<text x="323.70" y="29.10" font-size="6.6" fill="#1a1a1a" stroke="#1a1a1a" stroke-width="0.15">4 um</text>
<line x1="342.80" y1="25.90" x2="365.30" y2="25.90" stroke="#ff9628" stroke-width="1.8"/>
<text x="367.30" y="29.10" font-size="6.6" fill="#1a1a1a" stroke="#1a1a1a" stroke-width="0.15">13 um</text>
<line x1="389.50" y1="25.90" x2="412.00" y2="25.90" stroke="#f2ee00" stroke-width="1.8"/>
<text x="414.00" y="29.10" font-size="6.6" fill="#1a1a1a" stroke="#1a1a1a" stroke-width="0.15">22 um</text>
<line x1="436.20" y1="25.90" x2="458.70" y2="25.90" stroke="#1fc21f" stroke-width="1.8"/>
<text x="460.70" y="29.10" font-size="6.6" fill="#1a1a1a" stroke="#1a1a1a" stroke-width="0.15">31 um</text>
<text x="299.00" y="46.70" font-size="10.3" font-weight="bold" textLength="92" lengthAdjust="spacingAndGlyphs" fill="#111" stroke="#111" stroke-width="0.25">High &#948;, Low pressure</text>
<circle cx="372.30" cy="89.00" r="6.0" fill="none" stroke="#0e1e5e" stroke-width="2.0"/>
<circle cx="415.80" cy="83.10" r="6.0" fill="none" stroke="#0e1e5e" stroke-width="2.0"/>
<circle cx="437.00" cy="79.50" r="6.0" fill="none" stroke="#0e1e5e" stroke-width="2.0"/>
<circle cx="459.60" cy="79.70" r="6.0" fill="none" stroke="#0e1e5e" stroke-width="2.0"/>
<circle cx="481.30" cy="83.10" r="6.0" fill="none" stroke="#0e1e5e" stroke-width="2.0"/>
<circle cx="498.70" cy="89.50" r="6.0" fill="none" stroke="#0e1e5e" stroke-width="2.0"/>
<line x1="409.40" y1="84.10" x2="383.97" y2="87.71" stroke="#0e1e5e" stroke-width="1.2"/>
<polygon points="380.50,88.20 384.15,85.46 384.77,89.82" fill="#0e1e5e"/>
<line x1="430.50" y1="81.00" x2="426.45" y2="81.70" stroke="#0e1e5e" stroke-width="1.2"/>
<polygon points="423.00,82.30 426.57,79.45 427.32,83.78" fill="#0e1e5e"/>
<line x1="452.50" y1="79.40" x2="448.00" y2="79.51" stroke="#0e1e5e" stroke-width="1.2"/>
<polygon points="444.50,79.60 448.44,77.30 448.55,81.70" fill="#0e1e5e"/>
<line x1="475.00" y1="80.60" x2="471.49" y2="80.30" stroke="#0e1e5e" stroke-width="1.2"/>
<polygon points="468.00,80.00 472.17,78.15 471.80,82.53" fill="#0e1e5e"/>
<line x1="494.00" y1="86.80" x2="490.62" y2="85.08" stroke="#0e1e5e" stroke-width="1.2"/>
<polygon points="487.50,83.50 492.06,83.35 490.07,87.27" fill="#0e1e5e"/>
<line x1="315.32" y1="128.10" x2="315.32" y2="219.70" stroke="#e6e6e6" stroke-width="0.8"/>
<line x1="340.34" y1="128.10" x2="340.34" y2="219.70" stroke="#e6e6e6" stroke-width="0.8"/>
<line x1="365.36" y1="128.10" x2="365.36" y2="219.70" stroke="#e6e6e6" stroke-width="0.8"/>
<line x1="390.38" y1="128.10" x2="390.38" y2="219.70" stroke="#e6e6e6" stroke-width="0.8"/>
<line x1="415.40" y1="128.10" x2="415.40" y2="219.70" stroke="#e6e6e6" stroke-width="0.8"/>
<line x1="440.42" y1="128.10" x2="440.42" y2="219.70" stroke="#e6e6e6" stroke-width="0.8"/>
<line x1="465.44" y1="128.10" x2="465.44" y2="219.70" stroke="#e6e6e6" stroke-width="0.8"/>
<line x1="490.46" y1="128.10" x2="490.46" y2="219.70" stroke="#e6e6e6" stroke-width="0.8"/>
<line x1="515.48" y1="128.10" x2="515.48" y2="219.70" stroke="#e6e6e6" stroke-width="0.8"/>
<line x1="290.30" y1="201.38" x2="540.50" y2="201.38" stroke="#e6e6e6" stroke-width="0.8"/>
<line x1="290.30" y1="183.06" x2="540.50" y2="183.06" stroke="#e6e6e6" stroke-width="0.8"/>
<line x1="290.30" y1="164.74" x2="540.50" y2="164.74" stroke="#e6e6e6" stroke-width="0.8"/>
<line x1="290.30" y1="146.42" x2="540.50" y2="146.42" stroke="#e6e6e6" stroke-width="0.8"/>
<clipPath id="cb"><rect x="290.30" y="128.10" width="250.20" height="91.60"/></clipPath>
<g clip-path="url(#cb)">
<polyline points="290.30,219.70 292.80,219.61 295.30,219.52 297.81,219.44 300.31,219.36 302.81,219.27 305.31,219.18 307.81,219.09 310.32,219.00 312.82,218.89 315.32,218.78 317.82,218.66 320.32,218.52 322.83,218.38 325.33,218.22 327.83,218.06 330.33,217.89 332.83,217.72 335.34,217.55 337.84,217.39 340.34,217.23 342.84,217.07 345.34,216.91 347.85,216.75 350.35,216.59 352.85,216.44 355.35,216.28 357.85,216.12 360.36,215.97 362.86,215.82 365.36,215.67 367.86,215.53 370.36,215.38 372.87,215.25 375.37,215.11 377.87,214.97 380.37,214.84 382.87,214.71 385.38,214.57 387.88,214.43 390.38,214.30 392.88,214.16 395.38,214.02 397.89,213.88 400.39,213.73 402.89,213.59 405.39,213.45 407.89,213.31 410.40,213.17 412.90,213.03 415.40,212.88 417.90,212.74 420.40,212.60 422.91,212.46 425.41,212.32 427.91,212.17 430.41,212.03 432.91,211.89 435.42,211.74 437.92,211.60 440.42,211.46 442.92,211.31 445.42,211.17 447.93,211.02 450.43,210.87 452.93,210.73 455.43,210.58 457.93,210.43 460.44,210.28 462.94,210.14 465.44,209.99 467.94,209.84 470.44,209.70 472.95,209.55 475.45,209.40 477.95,209.26 480.45,209.11 482.95,208.96 485.46,208.82 487.96,208.67 490.46,208.52 492.96,208.38 495.46,208.23 497.97,208.09 500.47,207.94 502.97,207.79 505.47,207.65 507.97,207.50 510.48,207.35 512.98,207.21 515.48,207.06 517.98,206.91 520.48,206.77 522.99,206.62 525.49,206.47 527.99,206.33 530.49,206.18 532.99,206.03 535.50,205.89 538.00,205.74 540.50,205.59" fill="none" stroke="#ff1f2e" stroke-width="1.60" stroke-linejoin="round"/>
<polyline points="290.30,219.70 292.80,219.54 295.30,219.38 297.81,219.23 300.31,219.07 302.81,218.92 305.31,218.76 307.81,218.60 310.32,218.42 312.82,218.24 315.32,218.05 317.82,217.85 320.32,217.63 322.83,217.41 325.33,217.17 327.83,216.92 330.33,216.67 332.83,216.40 335.34,216.12 337.84,215.84 340.34,215.54 342.84,215.23 345.34,214.90 347.85,214.56 350.35,214.19 352.85,213.82 355.35,213.43 357.85,213.04 360.36,212.64 362.86,212.23 365.36,211.82 367.86,211.41 370.36,210.98 372.87,210.55 375.37,210.11 377.87,209.65 380.37,209.19 382.87,208.72 385.38,208.24 387.88,207.74 390.38,207.24 392.88,206.73 395.38,206.19 397.89,205.64 400.39,205.08 402.89,204.50 405.39,203.92 407.89,203.33 410.40,202.74 412.90,202.15 415.40,201.56 417.90,200.97 420.40,200.38 422.91,199.78 425.41,199.18 427.91,198.58 430.41,197.97 432.91,197.36 435.42,196.74 437.92,196.13 440.42,195.52 442.92,194.90 445.42,194.27 447.93,193.64 450.43,193.00 452.93,192.37 455.43,191.73 457.93,191.11 460.44,190.49 462.94,189.88 465.44,189.29 467.94,188.71 470.44,188.13 472.95,187.56 475.45,187.00 477.95,186.45 480.45,185.90 482.95,185.36 485.46,184.83 487.96,184.31 490.46,183.79 492.96,183.29 495.46,182.79 497.97,182.30 500.47,181.81 502.97,181.33 505.47,180.86 507.97,180.39 510.48,179.93 512.98,179.48 515.48,179.03 517.98,178.59 520.48,178.15 522.99,177.73 525.49,177.31 527.99,176.89 530.49,176.48 532.99,176.06 535.50,175.65 538.00,175.24 540.50,174.82" fill="none" stroke="#ff9628" stroke-width="1.60" stroke-linejoin="round"/>
<polyline points="290.30,219.70 292.80,219.52 295.30,219.33 297.81,219.13 300.31,218.92 302.81,218.69 305.31,218.46 307.81,218.21 310.32,217.96 312.82,217.69 315.32,217.41 317.82,217.12 320.32,216.82 322.83,216.51 325.33,216.19 327.83,215.86 330.33,215.52 332.83,215.17 335.34,214.80 337.84,214.43 340.34,214.05 342.84,213.65 345.34,213.25 347.85,212.83 350.35,212.41 352.85,211.98 355.35,211.53 357.85,211.08 360.36,210.61 362.86,210.13 365.36,209.65 367.86,209.15 370.36,208.65 372.87,208.13 375.37,207.61 377.87,207.07 380.37,206.52 382.87,205.97 385.38,205.40 387.88,204.83 390.38,204.24 392.88,203.64 395.38,203.04 397.89,202.42 400.39,201.80 402.89,201.16 405.39,200.52 407.89,199.86 410.40,199.20 412.90,198.52 415.40,197.84 417.90,197.14 420.40,196.44 422.91,195.72 425.41,195.00 427.91,194.26 430.41,193.52 432.91,192.76 435.42,192.00 437.92,191.23 440.42,190.44 442.92,189.65 445.42,188.85 447.93,188.04 450.43,187.21 452.93,186.38 455.43,185.54 457.93,184.69 460.44,183.83 462.94,182.96 465.44,182.08 467.94,181.19 470.44,180.29 472.95,179.38 475.45,178.46 477.95,177.53 480.45,176.59 482.95,175.64 485.46,174.68 487.96,173.72 490.46,172.74 492.96,171.75 495.46,170.76 497.97,169.75 500.47,168.73 502.97,167.71 505.47,166.67 507.97,165.63 510.48,164.58 512.98,163.51 515.48,162.44 517.98,161.36 520.48,160.26 522.99,159.16 525.49,158.05 527.99,156.93 530.49,155.80 532.99,154.66 535.50,153.51 538.00,152.35 540.50,151.18" fill="none" stroke="#f2ee00" stroke-width="1.60" stroke-linejoin="round"/>
<polyline points="290.30,219.70 292.80,219.50 295.30,219.28 297.81,219.05 300.31,218.81 302.81,218.56 305.31,218.29 307.81,218.01 310.32,217.72 312.82,217.41 315.32,217.10 317.82,216.77 320.32,216.43 322.83,216.08 325.33,215.71 327.83,215.34 330.33,214.95 332.83,214.55 335.34,214.13 337.84,213.71 340.34,213.28 342.84,212.83 345.34,212.37 347.85,211.90 350.35,211.42 352.85,210.92 355.35,210.42 357.85,209.90 360.36,209.37 362.86,208.83 365.36,208.28 367.86,207.72 370.36,207.14 372.87,206.55 375.37,205.96 377.87,205.35 380.37,204.73 382.87,204.10 385.38,203.45 387.88,202.80 390.38,202.13 392.88,201.46 395.38,200.77 397.89,200.07 400.39,199.36 402.89,198.63 405.39,197.90 407.89,197.16 410.40,196.40 412.90,195.63 415.40,194.85 417.90,194.06 420.40,193.26 422.91,192.45 425.41,191.63 427.91,190.79 430.41,189.95 432.91,189.09 435.42,188.22 437.92,187.34 440.42,186.45 442.92,185.55 445.42,184.64 447.93,183.72 450.43,182.78 452.93,181.84 455.43,180.88 457.93,179.91 460.44,178.94 462.94,177.95 465.44,176.95 467.94,175.93 470.44,174.91 472.95,173.88 475.45,172.83 477.95,171.78 480.45,170.71 482.95,169.63 485.46,168.55 487.96,167.45 490.46,166.34 492.96,165.21 495.46,164.08 497.97,162.94 500.47,161.79 502.97,160.62 505.47,159.44 507.97,158.26 510.48,157.06 512.98,155.85 515.48,154.63 517.98,153.40 520.48,152.16 522.99,150.91 525.49,149.65 527.99,148.37 530.49,147.09 532.99,145.79 535.50,144.49 538.00,143.17 540.50,141.84" fill="none" stroke="#1fc21f" stroke-width="1.60" stroke-linejoin="round"/>
</g>
<rect x="290.30" y="128.10" width="250.20" height="91.60" fill="none" stroke="#999999" stroke-width="1.0"/>
<line x1="315.32" y1="219.70" x2="315.32" y2="217.50" stroke="#777" stroke-width="0.9"/>
<line x1="315.32" y1="128.10" x2="315.32" y2="130.30" stroke="#777" stroke-width="0.9"/>
<line x1="340.34" y1="219.70" x2="340.34" y2="217.50" stroke="#777" stroke-width="0.9"/>
<line x1="340.34" y1="128.10" x2="340.34" y2="130.30" stroke="#777" stroke-width="0.9"/>
<line x1="365.36" y1="219.70" x2="365.36" y2="217.50" stroke="#777" stroke-width="0.9"/>
<line x1="365.36" y1="128.10" x2="365.36" y2="130.30" stroke="#777" stroke-width="0.9"/>
<line x1="390.38" y1="219.70" x2="390.38" y2="217.50" stroke="#777" stroke-width="0.9"/>
<line x1="390.38" y1="128.10" x2="390.38" y2="130.30" stroke="#777" stroke-width="0.9"/>
<line x1="415.40" y1="219.70" x2="415.40" y2="217.50" stroke="#777" stroke-width="0.9"/>
<line x1="415.40" y1="128.10" x2="415.40" y2="130.30" stroke="#777" stroke-width="0.9"/>
<line x1="440.42" y1="219.70" x2="440.42" y2="217.50" stroke="#777" stroke-width="0.9"/>
<line x1="440.42" y1="128.10" x2="440.42" y2="130.30" stroke="#777" stroke-width="0.9"/>
<line x1="465.44" y1="219.70" x2="465.44" y2="217.50" stroke="#777" stroke-width="0.9"/>
<line x1="465.44" y1="128.10" x2="465.44" y2="130.30" stroke="#777" stroke-width="0.9"/>
<line x1="490.46" y1="219.70" x2="490.46" y2="217.50" stroke="#777" stroke-width="0.9"/>
<line x1="490.46" y1="128.10" x2="490.46" y2="130.30" stroke="#777" stroke-width="0.9"/>
<line x1="515.48" y1="219.70" x2="515.48" y2="217.50" stroke="#777" stroke-width="0.9"/>
<line x1="515.48" y1="128.10" x2="515.48" y2="130.30" stroke="#777" stroke-width="0.9"/>
<line x1="290.30" y1="201.38" x2="292.50" y2="201.38" stroke="#777" stroke-width="0.9"/>
<line x1="540.50" y1="201.38" x2="538.30" y2="201.38" stroke="#777" stroke-width="0.9"/>
<line x1="290.30" y1="183.06" x2="292.50" y2="183.06" stroke="#777" stroke-width="0.9"/>
<line x1="540.50" y1="183.06" x2="538.30" y2="183.06" stroke="#777" stroke-width="0.9"/>
<line x1="290.30" y1="164.74" x2="292.50" y2="164.74" stroke="#777" stroke-width="0.9"/>
<line x1="540.50" y1="164.74" x2="538.30" y2="164.74" stroke="#777" stroke-width="0.9"/>
<line x1="290.30" y1="146.42" x2="292.50" y2="146.42" stroke="#777" stroke-width="0.9"/>
<line x1="540.50" y1="146.42" x2="538.30" y2="146.42" stroke="#777" stroke-width="0.9"/>
<text x="290.30" y="230.20" font-size="7.6" text-anchor="middle" fill="#303030" stroke="#303030" stroke-width="0.15">0</text>
<text x="315.32" y="230.20" font-size="7.6" text-anchor="middle" fill="#303030" stroke="#303030" stroke-width="0.15">1</text>
<text x="340.34" y="230.20" font-size="7.6" text-anchor="middle" fill="#303030" stroke="#303030" stroke-width="0.15">2</text>
<text x="365.36" y="230.20" font-size="7.6" text-anchor="middle" fill="#303030" stroke="#303030" stroke-width="0.15">3</text>
<text x="390.38" y="230.20" font-size="7.6" text-anchor="middle" fill="#303030" stroke="#303030" stroke-width="0.15">4</text>
<text x="415.40" y="230.20" font-size="7.6" text-anchor="middle" fill="#303030" stroke="#303030" stroke-width="0.15">5</text>
<text x="440.42" y="230.20" font-size="7.6" text-anchor="middle" fill="#303030" stroke="#303030" stroke-width="0.15">6</text>
<text x="465.44" y="230.20" font-size="7.6" text-anchor="middle" fill="#303030" stroke="#303030" stroke-width="0.15">7</text>
<text x="490.46" y="230.20" font-size="7.6" text-anchor="middle" fill="#303030" stroke="#303030" stroke-width="0.15">8</text>
<text x="515.48" y="230.20" font-size="7.6" text-anchor="middle" fill="#303030" stroke="#303030" stroke-width="0.15">9</text>
<text x="540.50" y="230.20" font-size="7.6" text-anchor="middle" fill="#303030" stroke="#303030" stroke-width="0.15">10</text>
<text x="287.00" y="222.40" font-size="7.6" text-anchor="end" fill="#303030" stroke="#303030" stroke-width="0.15">0</text>
<text x="287.00" y="204.08" font-size="7.6" text-anchor="end" fill="#303030" stroke="#303030" stroke-width="0.15">1</text>
<text x="287.00" y="185.76" font-size="7.6" text-anchor="end" fill="#303030" stroke="#303030" stroke-width="0.15">2</text>
<text x="287.00" y="167.44" font-size="7.6" text-anchor="end" fill="#303030" stroke="#303030" stroke-width="0.15">3</text>
<text x="287.00" y="149.12" font-size="7.6" text-anchor="end" fill="#303030" stroke="#303030" stroke-width="0.15">4</text>
<text x="287.00" y="130.80" font-size="7.6" text-anchor="end" fill="#303030" stroke="#303030" stroke-width="0.15">5</text>
<text x="290.60" y="125.80" font-size="7.6" fill="#303030"><tspan font-size="8">&#215;</tspan>10<tspan font-size="5.4" dy="-3.2">5</tspan></text>
<rect x="296.5" y="133.30" width="185.1" height="10.9" fill="#fff" stroke="#bdbdbd" stroke-width="0.9"/>
<line x1="299.20" y1="138.60" x2="321.70" y2="138.60" stroke="#ff1f2e" stroke-width="1.8"/>
<text x="323.70" y="141.80" font-size="6.6" fill="#1a1a1a" stroke="#1a1a1a" stroke-width="0.15">4 um</text>
<line x1="342.80" y1="138.60" x2="365.30" y2="138.60" stroke="#ff9628" stroke-width="1.8"/>
<text x="367.30" y="141.80" font-size="6.6" fill="#1a1a1a" stroke="#1a1a1a" stroke-width="0.15">13 um</text>
<line x1="389.50" y1="138.60" x2="412.00" y2="138.60" stroke="#f2ee00" stroke-width="1.8"/>
<text x="414.00" y="141.80" font-size="6.6" fill="#1a1a1a" stroke="#1a1a1a" stroke-width="0.15">22 um</text>
<line x1="436.20" y1="138.60" x2="458.70" y2="138.60" stroke="#1fc21f" stroke-width="1.8"/>
<text x="460.70" y="141.80" font-size="6.6" fill="#1a1a1a" stroke="#1a1a1a" stroke-width="0.15">31 um</text>
<text x="297.80" y="160.30" font-size="10.3" font-weight="bold" textLength="94.4" lengthAdjust="spacingAndGlyphs" fill="#111" stroke="#111" stroke-width="0.25">High &#948;, High pressure</text>
<circle cx="310.00" cy="214.70" r="6.0" fill="none" stroke="#b5121b" stroke-width="2.0"/>
<circle cx="360.00" cy="201.90" r="6.0" fill="none" stroke="#b5121b" stroke-width="2.0"/>
<circle cx="426.10" cy="186.80" r="6.0" fill="none" stroke="#b5121b" stroke-width="2.0"/>
<circle cx="466.90" cy="177.70" r="6.0" fill="none" stroke="#b5121b" stroke-width="2.0"/>
<circle cx="499.20" cy="201.90" r="6.0" fill="none" stroke="#b5121b" stroke-width="2.0"/>
<line x1="351.00" y1="204.50" x2="324.38" y2="211.69" stroke="#b5121b" stroke-width="1.2"/>
<polygon points="321.00,212.60 324.29,209.43 325.44,213.68" fill="#b5121b"/>
<line x1="414.80" y1="190.00" x2="373.41" y2="199.52" stroke="#b5121b" stroke-width="1.2"/>
<polygon points="370.00,200.30 373.41,197.26 374.39,201.55" fill="#b5121b"/>
<line x1="458.30" y1="179.80" x2="439.46" y2="182.76" stroke="#b5121b" stroke-width="1.2"/>
<polygon points="436.00,183.30 439.61,180.51 440.29,184.85" fill="#b5121b"/>
<line x1="491.50" y1="195.90" x2="477.86" y2="184.27" stroke="#b5121b" stroke-width="1.2"/>
<polygon points="475.20,182.00 479.67,182.92 476.82,186.27" fill="#b5121b"/>
</svg></body></html>
